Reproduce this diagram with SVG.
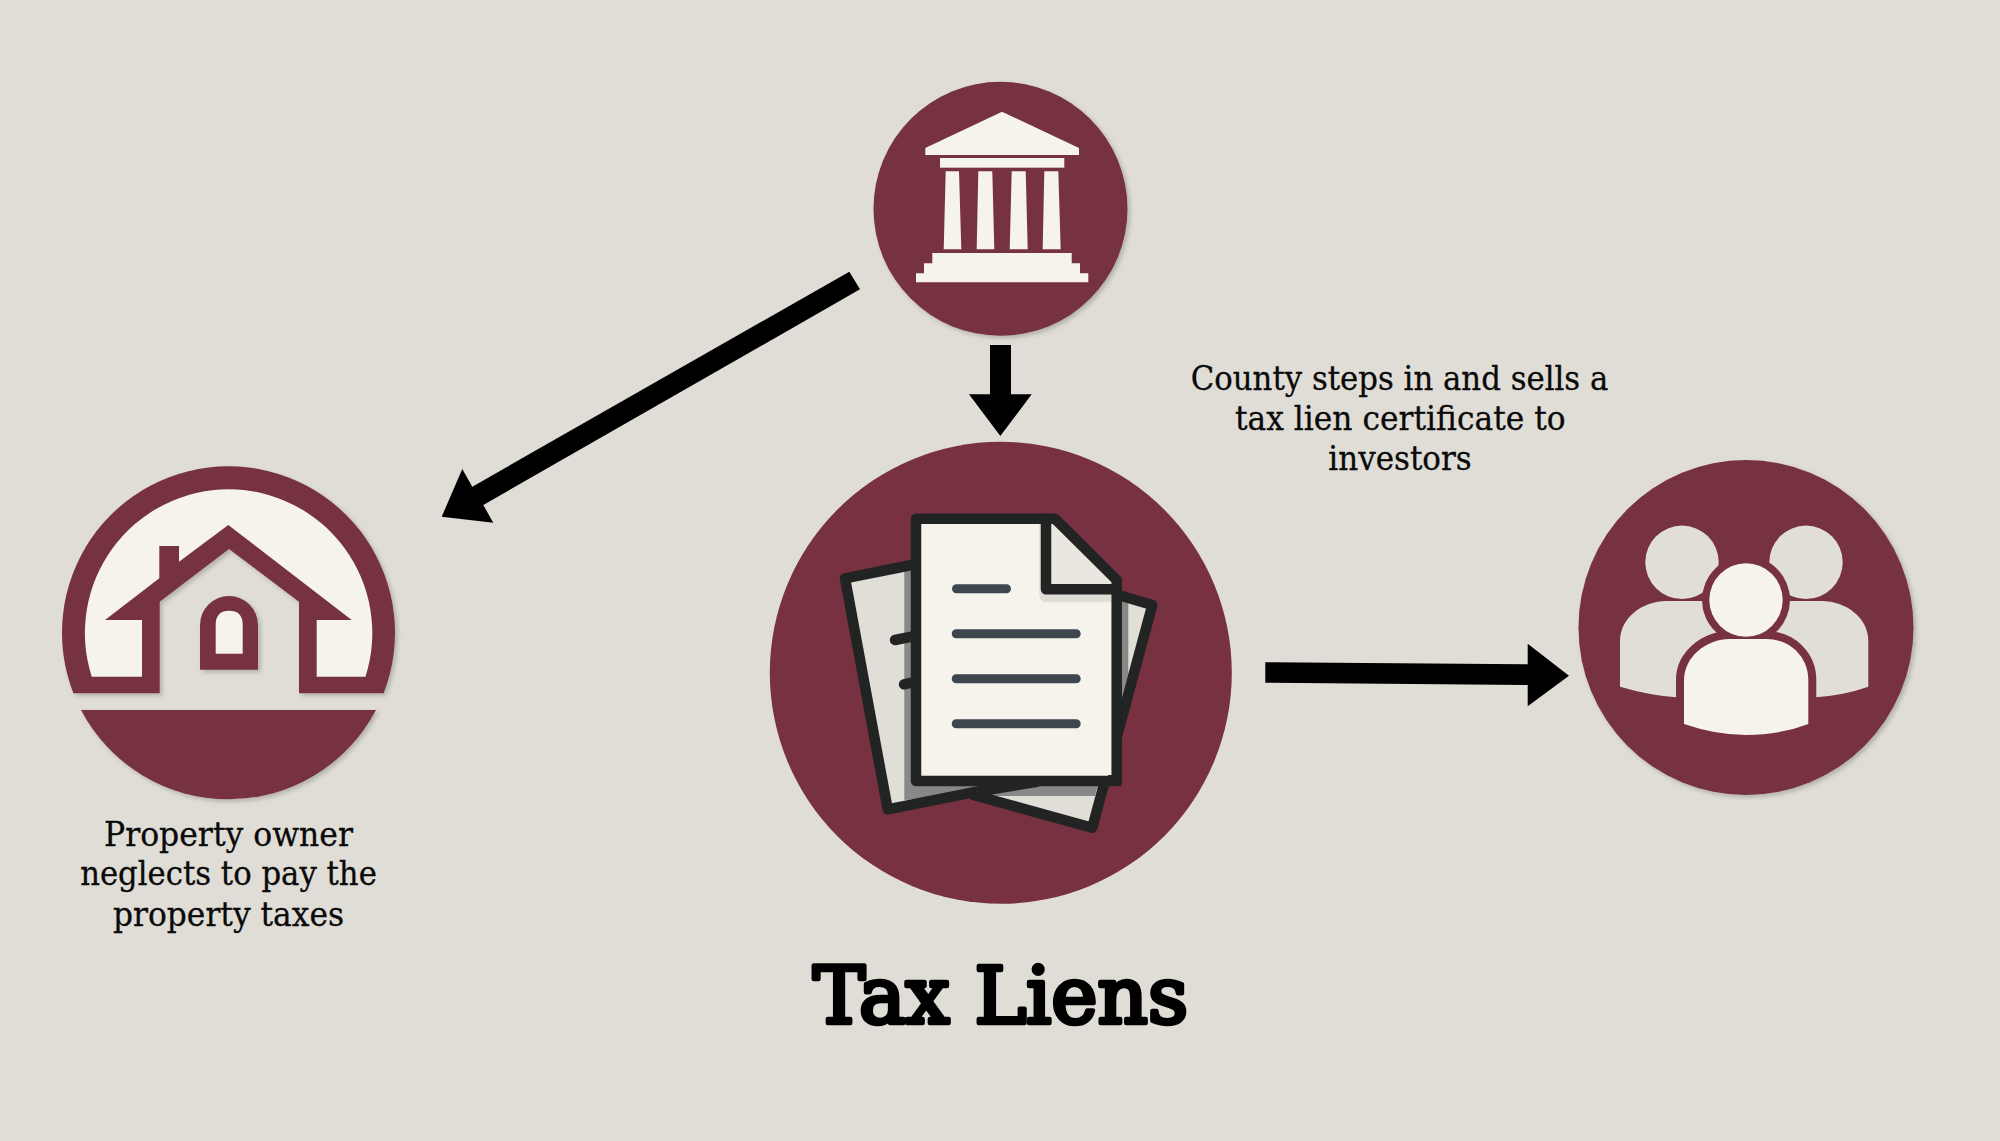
<svg xmlns="http://www.w3.org/2000/svg" width="2000" height="1141" viewBox="0 0 2000 1141">
<style>
.m{fill:#773141}
.c{fill:#f5f3eb}
.b{fill:#e0ded7}
.ink{fill:none;stroke:#222423;stroke-width:10.5;stroke-linejoin:round;stroke-linecap:round}
.rule{fill:none;stroke:#3d474d;stroke-width:9;stroke-linecap:round}
.lab{font-family:"DejaVu Serif","Liberation Serif",serif;font-size:33px;fill:#0a0a0a;stroke:#0a0a0a;stroke-width:.3px;text-anchor:middle}
.ttl{font-family:"DejaVu Serif","Liberation Serif",serif;font-weight:400;font-size:78px;fill:#000;stroke:#000;stroke-width:4.5px;stroke-linejoin:round;text-anchor:middle}
.sh{filter:url(#ds)}
.arrow{fill:#000}
</style>
<defs>
<filter id="ds" x="-10%" y="-10%" width="125%" height="125%">
<feDropShadow dx="2.5" dy="2.5" stdDeviation="2" flood-color="#000" flood-opacity=".2"/>
</filter>
</defs>
<rect width="2000" height="1141" fill="#dfddd6"/>

<g id="node-county">
<circle class="m sh" cx="1000.5" cy="208.8" r="127"/>
<path class="c" d="M925.3,155V148L1002,111.7L1079,148V155Z"/>
<rect class="c" x="940" y="158" width="124.3" height="9.7"/>
<path class="c" d="M945.7,171.3H959L961.3,249.3H943.7Z"/>
<path class="c" d="M978.3,171.3H992.3L994.3,249.3H976.7Z"/>
<path class="c" d="M1011.7,171.3H1025.7L1027.7,249.3H1009.7Z"/>
<path class="c" d="M1044.3,171.3H1058.3L1060.7,249.3H1042.7Z"/>
<path class="c" d="M932.3,253H1071.7V263.3H1080V273.3H1088.3V282.3H916V273.3H924V263.3H932.3Z"/>
</g>

<g id="node-owner">
<g class="sh">
<path class="m" d="M73.4,693.3A166.5,166.5 0 1 1 383.6,693.3H299V601.7L229,549L159.7,601.7V693.3Z"/>
<path class="m" d="M81,710H376A166.5,166.5 0 0 1 81,710Z"/>
<path class="m" d="M200,669.7V625A29,29 0 0 1 258,625V669.7Z"/>
</g>
<path class="c" d="M91.7,676.7A143.7,143.7 0 1 1 365.5,676.7H316.7V620H351.7L228.3,525L179,561.7V546H159.3V578.3L105,620H142V676.7Z"/>
<path class="c" d="M215.7,653.7V624C215.7,615 221,610.7 229,610.7C237.5,610.7 242.7,615 242.7,624V653.7Z"/>
<text class="lab" x="228.5" y="845.5" textLength="249" lengthAdjust="spacingAndGlyphs">Property owner</text>
<text class="lab" x="228.5" y="885" textLength="296.7" lengthAdjust="spacingAndGlyphs">neglects to pay the</text>
<text class="lab" x="228.5" y="925.5" textLength="231" lengthAdjust="spacingAndGlyphs">property taxes</text>
</g>

<g id="node-lien">
<circle class="m" cx="1000.8" cy="672.8" r="231"/>
<path class="b" d="M845,578.3L912,565V804L887.7,809.3Z"/>
<path class="b" d="M1121,595.7L1152.3,605L1092.3,827.7L973.3,795L1000,770H1121Z"/>
<path fill="#888886" d="M904.3,570H914V781H1121V600L1128.3,602V674L1110,740L1095,796H962L904.3,800Z"/>
<path class="ink" d="M911.7,565L845,578.3L887.7,809.3L976.7,791.7L1036.7,781.7"/>
<path class="ink" d="M1121,595.7L1152.3,605L1092.3,827.7L973.3,795"/>
<path class="ink" d="M895,640L911.7,636.7M904,684.3L911.7,682.7"/>
<path class="c" d="M916,518.7H1055L1116.7,580V781H916Z"/>
<path fill="#dfddd6" d="M1039.3,523H1046V589.3H1112.3V602.3H1047C1042,602.3 1039.3,599 1039.3,595Z"/>
<path fill="#e9e7df" d="M1046,518.7H1055L1116.7,580V589.3H1046Z"/>
<path class="ink" d="M1116.7,781H916V518.7H1055L1116.7,580V781"/>
<path class="ink" d="M1046,518.7V589.3H1116.7"/>
<rect x="1108" y="775" width="13.5" height="11" fill="#222423"/>
<path class="rule" d="M956.5,588.7H1006.5M956.2,633.7H1076.2M956.2,678.7H1076.2M956.2,723.7H1076.2"/>
<text class="ttl" x="1000.5" y="1022.7" textLength="375" lengthAdjust="spacingAndGlyphs">Tax Liens</text>
</g>

<g id="node-investors">
<circle class="m sh" cx="1746" cy="627.5" r="167.5"/>
<circle class="b" cx="1682" cy="562.3" r="36.7"/>
<circle class="b" cx="1806" cy="562.3" r="36.7"/>
<path class="b" d="M1620,686.7Q1648,695 1676,697.3L1720,697V601H1667C1642,601 1620,618 1620,641Z"/>
<path class="b" d="M1868.3,686.7Q1845,695 1816,697.3L1770,697V601H1821.3C1846.3,601 1868.3,618 1868.3,641Z"/>
<circle class="m" cx="1746" cy="600" r="44"/>
<path class="m" stroke="#773141" stroke-width="16" d="M1684,724V680C1684,657 1706,639 1730,639H1766C1790,639 1808.3,657 1808.3,680V724Q1780,735 1746,735Q1716,735 1684,724Z"/>
<circle class="c" cx="1746" cy="600" r="36.7"/>
<path class="c" d="M1684,724V680C1684,657 1706,639 1730,639H1766C1790,639 1808.3,657 1808.3,680V724Q1780,735 1746,735Q1716,735 1684,724Z"/>
</g>

<g id="label-county">
<text class="lab" x="1399.5" y="389.5" textLength="417.6" lengthAdjust="spacingAndGlyphs">County steps in and sells a</text>
<text class="lab" x="1400.3" y="429.5" textLength="330.7" lengthAdjust="spacingAndGlyphs">tax lien certificate to</text>
<text class="lab" x="1400" y="469.5" textLength="143.4" lengthAdjust="spacingAndGlyphs">investors</text>
</g>

<g id="connectors">
<polygon class="arrow" points="849.3,271.7 860,289.3 483.3,505 493.3,522.7 441.7,516.7 462.3,469 472.3,486.7"/>
<polygon class="arrow" points="990,345 1011,345 1011,394.3 1031.7,394.3 1000.3,436 969,394.3 990,394.3"/>
<polygon class="arrow" points="1265.3,662.3 1527.7,664.3 1527.7,643.7 1569,675.7 1527.7,706.3 1527.7,685 1265.3,682.7"/>
</g>
</svg>
